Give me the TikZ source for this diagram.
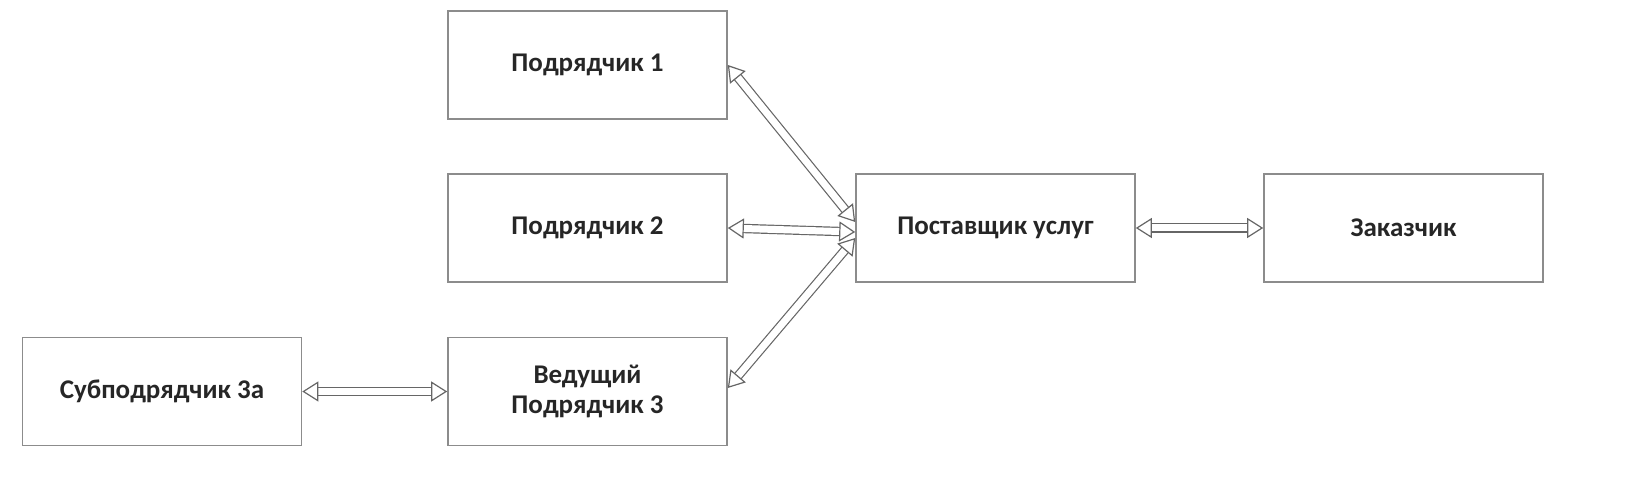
\documentclass[tikz,border=0pt]{standalone}
\usepackage{fontspec}
\setmainfont{Carlito}
\usetikzlibrary{arrows.meta}
\newcommand\myconn[2]{%
  \draw[shaft] #1 -- #2;
  \draw[heads] #1 -- #2;}
\begin{document}
\begin{tikzpicture}[x=0.5pt,y=-0.5pt,
  box/.style={draw=black!45,line width=0.8pt,minimum width=139.5pt,minimum height=54pt,inner sep=0pt,align=center,font=\bfseries\fontsize{13.5}{15}\selectfont,text=black!85},
  shaft/.style={draw=black!60,line width=0.6pt,double=white,double distance=3.5pt,shorten <=7pt,shorten >=7pt},
  heads/.style={draw=white,line width=0.5pt,{Triangle[open,color=black!60,fill=white,length=8pt,width=10pt,line width=0.6pt]}-{Triangle[open,color=black!60,fill=white,length=8pt,width=10pt,line width=0.6pt]}}]
\useasboundingbox (0,0) rectangle (1652,496);
\node[box] (p1) at (587.5,65) {Подрядчик 1};
\node[box] (p2) at (587.5,228) {Подрядчик 2};
\node[box] (p3) at (587.5,391.5) {Ведущий\\Подрядчик 3};
\node[box] (s3) at (162,391.5) {Субподрядчик 3а};
\node[box] (ps) at (995.5,228) {Поставщик услуг};
\node[box] (z) at (1403.5,228) {Заказчик};
\myconn{(p1.east|-0,65)}{(ps.west|-0,222)}
\myconn{(p2.east)}{(ps.west|-0,232)}
\myconn{(p3.east|-0,388)}{(ps.west|-0,238)}
\myconn{(ps.east)}{(z.west)}
\myconn{(s3.east)}{(p3.west)}
\end{tikzpicture}
\end{document}
